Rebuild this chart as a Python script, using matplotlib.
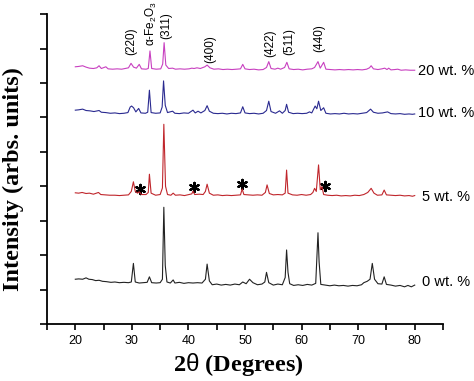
import matplotlib
matplotlib.use("Agg")
import matplotlib.pyplot as plt
import numpy as np
from matplotlib.ticker import MultipleLocator

plt.rcParams['font.family'] = ['Liberation Sans', 'DejaVu Sans']
plt.rcParams['mathtext.fontset'] = 'custom'
plt.rcParams['mathtext.rm'] = 'Liberation Sans'
plt.rcParams['mathtext.default'] = 'rm'

# XRD patterns (2theta, offset intensity)
p0 = [(20.0,1.30),(20.6,1.31),(21.3,1.30),(21.9,1.34),(22.4,1.30),(23.0,1.29),(23.6,1.26),(24.2,1.27),
      (24.8,1.24),(25.5,1.23),(26.3,1.21),(27.0,1.22),(27.8,1.20),(28.6,1.21),(29.4,1.20),(29.9,1.22),
      (30.27,1.76),(30.6,1.22),(31.3,1.19),(32.0,1.20),(32.7,1.21),(33.1,1.37),(33.5,1.20),(34.3,1.19),
      (35.0,1.20),(35.4,1.30),(35.65,3.39),(35.9,1.70),(36.2,1.22),(36.8,1.19),(37.3,1.28),(37.6,1.19),
      (38.4,1.21),(39.2,1.18),(40.0,1.20),(40.8,1.19),(41.6,1.20),(42.4,1.19),(43.0,1.30),(43.3,1.74),
      (43.7,1.25),(44.2,1.14),(45.0,1.16),(45.8,1.13),(46.6,1.15),(47.4,1.13),(48.2,1.16),(49.0,1.14),
      (49.6,1.22),(50.2,1.17),(50.8,1.30),(51.4,1.20),(52.2,1.14),(53.0,1.16),(53.5,1.22),(53.8,1.50),
      (54.2,1.20),(55.0,1.13),(55.8,1.16),(56.6,1.14),(57.1,1.35),(57.35,2.15),(57.6,1.50),(57.9,1.17),
      (58.6,1.12),(59.4,1.14),(60.2,1.12),(61.0,1.15),(61.8,1.13),(62.5,1.18),(62.9,2.65),(63.1,1.80),
      (63.4,1.15),(64.2,1.13),(65.0,1.11),(65.8,1.13),(66.6,1.11),(67.4,1.12),(68.2,1.10),(69.0,1.12),
      (69.8,1.11),(70.6,1.14),(71.0,1.20),(71.6,1.24),(72.1,1.30),(72.5,1.76),(72.9,1.30),(73.5,1.17),
      (74.2,1.16),(74.6,1.37),(75.0,1.15),(75.8,1.13),(76.6,1.10),(77.4,1.12),(78.2,1.08),(78.8,1.12),
      (79.4,1.08),(80.0,1.13)]

p5 = [(20.0,3.81),(20.6,3.80),(21.2,3.82),(21.9,3.79),(22.5,3.80),(23.2,3.77),(24.1,3.82),(24.5,3.76),
      (25.3,3.75),(26.1,3.74),(27.0,3.74),(27.8,3.73),(28.6,3.74),(29.4,3.75),(29.9,3.85),(30.27,4.13),
      (30.6,3.85),(31.0,3.80),(31.3,3.84),(31.7,3.76),(32.5,3.76),(32.9,3.82),(33.1,4.35),(33.4,3.80),
      (34.2,3.74),(35.0,3.76),(35.4,3.95),(35.65,5.80),(35.95,4.00),(36.3,3.76),(36.9,3.74),(37.3,3.80),
      (37.7,3.74),(38.5,3.75),(39.3,3.73),(40.1,3.76),(40.6,3.78),(40.8,3.86),(41.1,3.76),(41.9,3.77),
      (42.6,3.76),(43.0,3.85),(43.3,4.06),(43.7,3.80),(44.4,3.74),(45.2,3.75),(46.0,3.73),(46.8,3.74),
      (47.6,3.73),(48.4,3.74),(49.2,3.75),(49.5,3.92),(49.8,3.76),(50.6,3.75),(51.4,3.74),(52.2,3.75),
      (53.0,3.74),(53.6,3.82),(53.9,4.04),(54.3,3.79),(55.0,3.75),(55.8,3.76),(56.6,3.75),(57.1,3.80),
      (57.35,4.47),(57.6,3.80),(58.4,3.75),(59.2,3.74),(60.0,3.76),(60.8,3.74),(61.6,3.76),(62.0,3.82),
      (62.3,3.94),(62.6,3.85),(63.0,4.62),(63.3,3.90),(63.6,3.99),(63.9,3.76),(64.6,3.74),(65.4,3.73),
      (66.2,3.74),(67.0,3.72),(67.8,3.73),(68.6,3.72),(69.4,3.74),(70.2,3.73),(71.0,3.76),(71.7,3.82),
      (72.3,3.94),(72.8,3.80),(73.4,3.74),(74.2,3.75),(74.6,3.89),(75.0,3.75),(75.8,3.74),(76.6,3.73),
      (77.4,3.74),(78.2,3.72),(79.0,3.73),(79.6,3.71),(80.0,3.73)]

p10 = [(20.0,6.21),(20.6,6.22),(21.3,6.24),(21.9,6.20),(22.6,6.19),(23.3,6.17),(24.2,6.20),(24.6,6.15),
       (25.4,6.14),(26.2,6.12),(27.0,6.13),(27.8,6.11),(28.6,6.12),(29.3,6.14),(29.7,6.30),(29.95,6.33),
       (30.3,6.28),(30.7,6.16),(31.2,6.26),(31.6,6.13),(32.4,6.12),(32.8,6.15),(33.1,6.79),(33.4,6.14),
       (34.2,6.12),(35.0,6.13),(35.35,6.30),(35.6,7.06),(35.9,6.35),(36.3,6.14),(37.2,6.18),(37.6,6.12),
       (38.4,6.11),(39.2,6.13),(40.0,6.12),(40.8,6.21),(41.2,6.13),(41.7,6.18),(42.2,6.13),(42.9,6.20),
       (43.3,6.34),(43.7,6.18),(44.4,6.12),(45.2,6.11),(46.0,6.12),(46.8,6.10),(47.6,6.12),(48.4,6.11),
       (49.2,6.13),(49.6,6.31),(50.0,6.13),(50.8,6.11),(51.6,6.12),(52.4,6.10),(53.2,6.12),(53.8,6.20),
       (54.2,6.47),(54.6,6.17),(55.4,6.12),(56.1,6.19),(56.6,6.12),(57.1,6.20),(57.35,6.38),(57.7,6.15),
       (58.5,6.11),(59.3,6.12),(60.1,6.11),(60.9,6.12),(61.4,6.16),(61.8,6.13),(62.4,6.33),(62.7,6.25),
       (63.0,6.47),(63.4,6.20),(63.9,6.28),(64.3,6.12),(65.1,6.10),(65.9,6.11),(66.7,6.10),(67.5,6.12),
       (68.3,6.10),(69.1,6.11),(69.9,6.10),(70.7,6.12),(71.5,6.14),(72.2,6.24),(72.7,6.15),(73.5,6.12),
       (74.3,6.13),(75.2,6.16),(75.8,6.11),(76.6,6.10),(77.4,6.11),(78.2,6.09),(79.0,6.10),(79.6,6.09),
       (80.0,6.10)]

p20 = [(20.0,7.47),(20.6,7.48),(21.3,7.50),(21.9,7.46),(22.5,7.43),(23.2,7.42),(23.8,7.44),(24.2,7.50),
       (24.6,7.42),(25.4,7.47),(25.8,7.41),(26.6,7.40),(27.4,7.41),(28.2,7.40),(28.8,7.42),(29.4,7.44),
       (29.85,7.57),(30.3,7.46),(30.8,7.43),(31.3,7.54),(31.7,7.41),(32.5,7.40),(32.9,7.42),(33.2,7.93),
       (33.5,7.42),(34.3,7.40),(35.1,7.41),(35.45,7.55),(35.7,8.17),(36.0,7.52),(36.5,7.42),(37.2,7.43),
       (37.7,7.40),(38.5,7.41),(39.3,7.40),(40.1,7.41),(40.6,7.43),(41.0,7.42),(41.5,7.44),(42.1,7.42),
       (42.9,7.47),(43.3,7.52),(43.8,7.44),(44.5,7.40),(45.3,7.41),(46.1,7.39),(46.9,7.40),(47.7,7.39),
       (48.5,7.40),(49.2,7.41),(49.6,7.54),(50.0,7.41),(50.8,7.39),(51.6,7.40),(52.4,7.38),(53.2,7.39),
       (53.8,7.45),(54.2,7.62),(54.6,7.42),(55.3,7.40),(55.8,7.43),(56.3,7.40),(57.0,7.45),(57.4,7.60),
       (57.8,7.41),(58.6,7.39),(59.4,7.40),(60.2,7.38),(61.0,7.40),(61.8,7.41),(62.3,7.45),(62.9,7.62),
       (63.3,7.43),(63.9,7.60),(64.3,7.40),(65.1,7.39),(65.9,7.38),(66.7,7.39),(67.5,7.38),(68.3,7.39),
       (69.1,7.38),(69.9,7.39),(70.7,7.38),(71.5,7.40),(72.0,7.44),(72.3,7.50),(72.7,7.41),(73.5,7.39),
       (74.2,7.41),(74.7,7.43),(75.1,7.39),(75.4,7.43),(75.8,7.38),(76.5,7.39),(77.0,7.40),(77.6,7.37),
       (78.4,7.38),(79.2,7.37),(80.0,7.37)]

series_labels = ['0 wt. %', '5 wt. %', '10 wt. %', '20 wt. %']
label_x = [81.3, 81.2, 80.5, 80.5]
label_y = [1.22, 3.69, 6.13, 7.35]

hkl_text = ['(220)', r'$\alpha$-Fe$_2$O$_3$', '(311)', '(400)', '(422)', '(511)', '(440)']
hkl_x = [29.85, 33.4, 36.05, 43.85, 54.4, 57.75, 63.1]
hkl_y = [7.80, 8.08, 8.27, 7.57, 7.74, 7.80, 7.89]

star_x = [31.45, 40.9, 49.5, 64.2]
star_y = [3.93, 3.97, 4.08, 4.00]

colors = ['#222222', '#c0262c', '#2a2a90', '#c840c0']

fig = plt.figure(figsize=(4.74, 3.81), dpi=100)
ax = fig.add_axes([0.0992, 0.1496, 0.8354, 0.8134])

for pts, c in zip([p0, p5, p10, p20], colors):
    d = np.array(pts)
    ax.plot(d[:, 0], d[:, 1], color=c, linewidth=0.8)

for t, x, y in zip(series_labels, label_x, label_y):
    ax.text(x, y, t, fontsize=10.5, ha='left', va='center', clip_on=False)

for t, x, y in zip(hkl_text, hkl_x, hkl_y):
    ax.text(x, y, t, fontsize=8.5, rotation=90, ha='center', va='bottom')

ax.scatter(star_x, star_y, marker=(6, 2, 0), s=45, color='black', linewidths=1.6)

ax.set_xlim(15, 85)
ax.set_ylim(0, 9)
ax.xaxis.set_major_locator(MultipleLocator(10))
ax.xaxis.set_minor_locator(MultipleLocator(5))
ax.set_xticks([20, 30, 40, 50, 60, 70, 80])
ax.yaxis.set_major_locator(MultipleLocator(1))
ax.set_yticklabels([])
ax.spines['top'].set_visible(False)
ax.spines['right'].set_visible(False)
ax.spines['left'].set_linewidth(1.3)
ax.spines['bottom'].set_linewidth(1.3)
ax.tick_params(axis='x', which='major', length=4, width=1.2, labelsize=9, pad=4)
ax.tick_params(axis='x', which='minor', length=4, width=1.2)
ax.tick_params(axis='y', which='major', length=5, width=1.2)

ax.set_xlabel(r'2$\theta$ (Degrees)', fontsize=17.5, fontweight='bold', family='Liberation Serif')
ax.set_ylabel('Intensity (arbs. units)', fontsize=17.5, fontweight='bold', family='Liberation Serif')
ax.xaxis.set_label_coords(0.484, -0.088)
ax.yaxis.set_label_coords(-0.058, 0.468)

plt.savefig('out.png', dpi=100)
